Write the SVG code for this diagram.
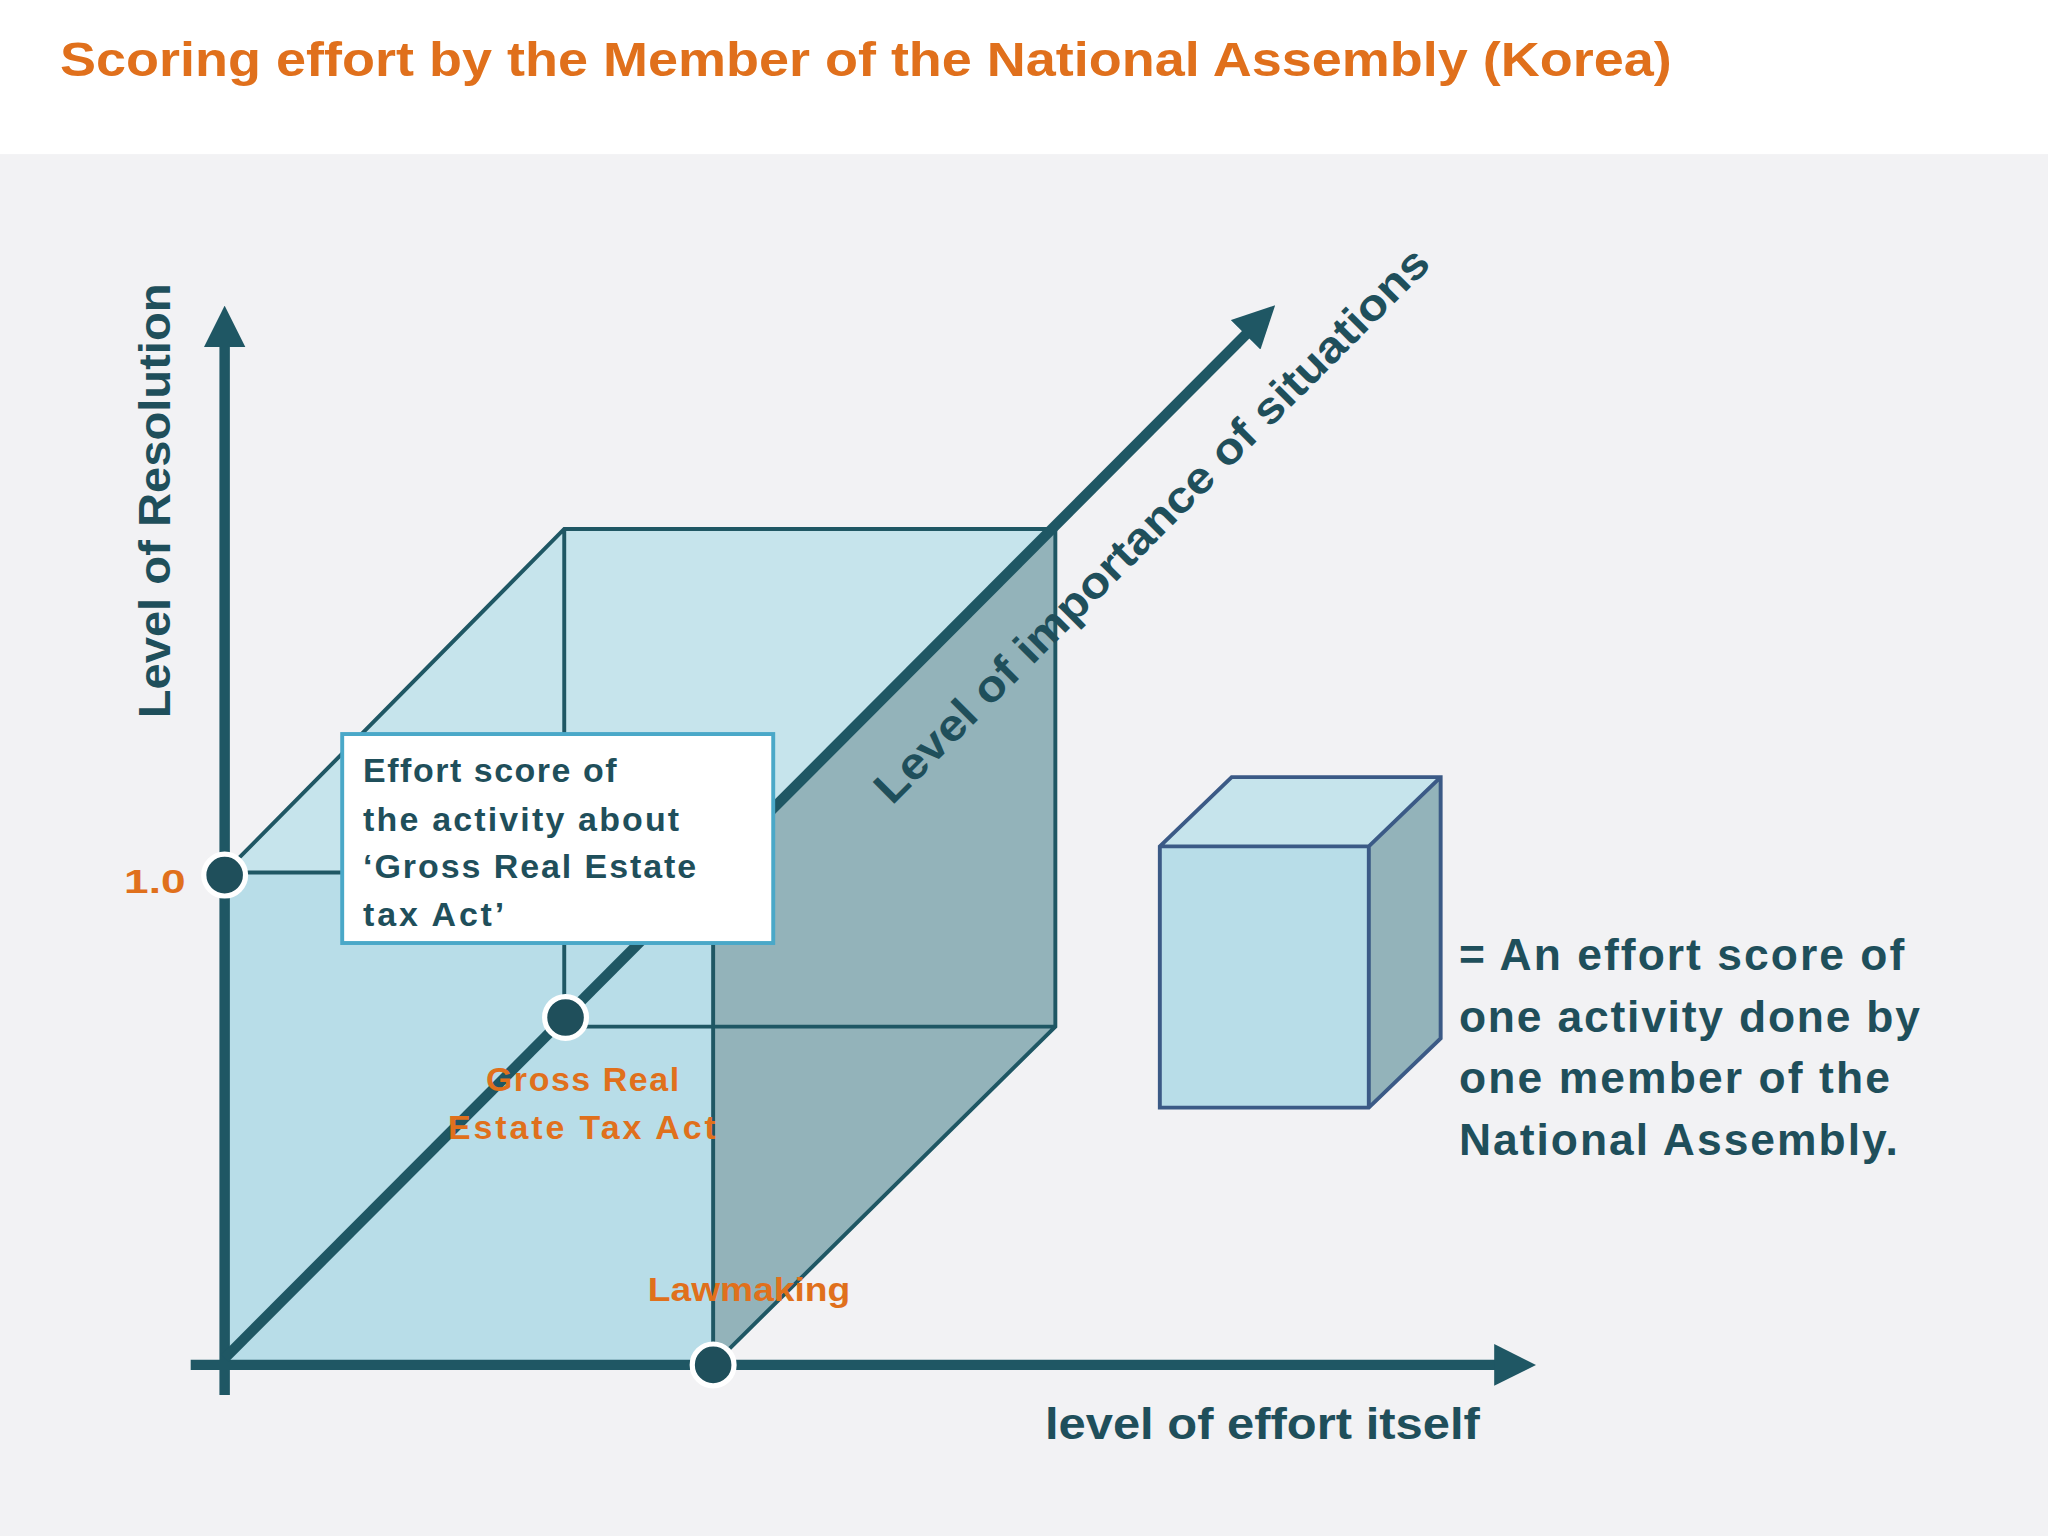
<svg xmlns="http://www.w3.org/2000/svg" width="2048" height="1536" viewBox="0 0 2048 1536">
<defs>
<style>
.ax{stroke:#1f5764;stroke-width:8;fill:none}
.edge{stroke:#1f5764;stroke-width:3;fill:none}
.t{font-family:"Liberation Sans",Arial,sans-serif;font-weight:bold}
.dk{fill:#1f4f5b}
.or{fill:#e0701c}
.dot{fill:#1f4f5b;stroke:#ffffff;stroke-width:4}
</style>
<marker id="ah" viewBox="0 0 10 10" refX="5" refY="5" markerWidth="4" markerHeight="4" orient="auto" markerUnits="strokeWidth"><path d="M0,0 L10,5 L0,10 z" fill="#1f5764"/></marker>
</defs>
<g transform="scale(1.30612)">
<rect x="0" y="0" width="1568" height="1176" fill="#f2f2f4"/>
<rect x="0" y="0" width="1568" height="118" fill="#ffffff"/>
<text class="t or" x="46" y="58" font-size="37" textLength="1234" lengthAdjust="spacingAndGlyphs">Scoring effort by the Member of the National Assembly (Korea)</text>
<g id="cube">
<polygon points="172,668 432,405 808,405 546,668" fill="#c6e4ec"/>
<polygon points="172,668 546,668 546,1045 172,1045" fill="#b8dde8"/>
<polygon points="546,668 808,405 808,786 546,1045" fill="#93b3ba"/>
<path class="edge" d="M172,668 L432,405 L808,405 L808,786 L546,1045 M432,405 L432,786 L808,786 M546,668 L808,405 M172,668 L546,668 L546,1045 L172,1045"/>
</g>
<g id="connectors">
<line class="ax" x1="172" y1="1068" x2="172" y2="250" marker-end="url(#ah)"/>
<line class="ax" x1="146" y1="1045" x2="1160" y2="1045" marker-end="url(#ah)"/>
<line class="ax" x1="172" y1="1040" x2="965" y2="245" marker-end="url(#ah)"/>
</g>
<g id="box">
<rect x="262" y="562" width="330" height="160" fill="#ffffff" stroke="#4aa8c8" stroke-width="3"/>
<text class="t dk" font-size="26" lengthAdjust="spacingAndGlyphs"><tspan x="278" y="599" textLength="194">Effort score of</tspan><tspan x="278" y="636" textLength="242">the activity about</tspan><tspan x="278" y="672" textLength="255">‘Gross Real Estate</tspan><tspan x="278" y="709" textLength="108">tax Act’</tspan></text>
</g>
<g id="dots">
<circle class="dot" cx="172" cy="670" r="16"/>
<circle class="dot" cx="433" cy="779" r="16"/>
<circle class="dot" cx="546" cy="1045" r="16"/>
</g>
<text class="t or" x="95" y="684" font-size="26" textLength="47" lengthAdjust="spacingAndGlyphs">1.0</text>
<text class="t or" font-size="26" lengthAdjust="spacingAndGlyphs"><tspan x="372" y="835" textLength="148">Gross Real</tspan><tspan x="343" y="872" textLength="205">Estate Tax Act</tspan></text>
<text class="t or" x="496" y="996" font-size="26" textLength="155" lengthAdjust="spacingAndGlyphs">Lawmaking</text>
<text class="t dk" x="800" y="1102" font-size="34" textLength="333" lengthAdjust="spacingAndGlyphs">level of effort itself</text>
<text class="t dk" font-size="34" transform="translate(130,550) rotate(-90)" textLength="333" lengthAdjust="spacingAndGlyphs">Level of Resolution</text>
<text class="t dk" font-size="34" transform="translate(683,617) rotate(-45)" textLength="585" lengthAdjust="spacingAndGlyphs">Level of importance of situations</text>
<g id="legend-cube">
<polygon points="888,648 943,595 1103,595 1048,648" fill="#c6e4ec"/>
<polygon points="888,648 1048,648 1048,848 888,848" fill="#b8dde8"/>
<polygon points="1048,648 1103,595 1103,795 1048,848" fill="#93b3ba"/>
<path d="M888,648 L943,595 L1103,595 L1103,795 L1048,848 L888,848 Z M888,648 L1048,648 L1103,595 M1048,648 L1048,848" fill="none" stroke="#3b5a86" stroke-width="3"/>
</g>
<text class="t dk" font-size="34" lengthAdjust="spacingAndGlyphs"><tspan x="1117" y="743" textLength="341">= An effort score of</tspan><tspan x="1117" y="790" textLength="353">one activity done by</tspan><tspan x="1117" y="837" textLength="330">one member of the</tspan><tspan x="1117" y="884" textLength="336">National Assembly.</tspan></text>
</g>
</svg>
